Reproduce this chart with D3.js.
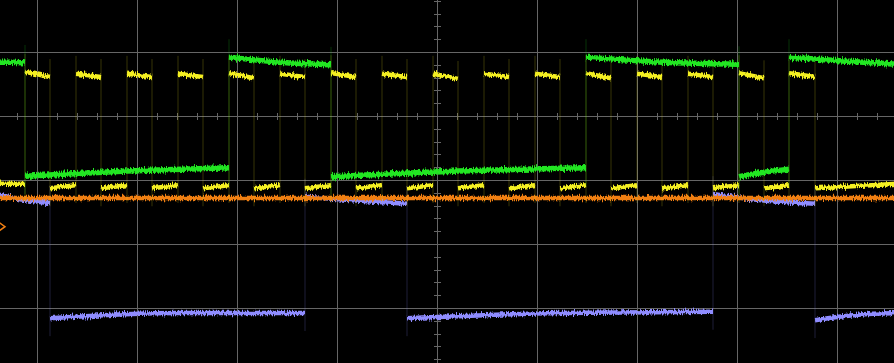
<!DOCTYPE html>
<html>
<head>
<meta charset="utf-8">
<script src="https://cdn.jsdelivr.net/npm/d3@7"></script>
<style>
  html, body { margin: 0; padding: 0; background: #000; overflow: hidden; }
  svg { display: block; }
</style>
</head>
<body>
<script>
// scope screen: time in divisions from centre, level in divisions from centre
var width = 894, height = 363;

// green trace (segments between edges)
var greenStart = [-4.40, -4.12, -2.08, -1.06, 1.49, 3.02, 3.52];
var greenEnd   = [-4.12, -2.08, -1.06, 1.49, 3.02, 3.52, 4.60];
var greenV0    = [0.84, -0.94, 0.92, -0.95, 0.92, -0.95, 0.92];
var greenVm    = [0.84, -0.86, 0.84, -0.86, 0.84, -0.88, 0.86];
var greenV1    = [0.83, -0.81, 0.80, -0.81, 0.81, -0.83, 0.81];

// yellow trace
var yellowEdges = [-4.12, -3.87, -3.61, -3.36, -3.10, -2.85, -2.59, -2.34, -2.08, -1.83, -1.57,
  -1.32, -1.06, -0.81, -0.55, -0.30, -0.04, 0.21, 0.47, 0.72, 0.98, 1.23, 1.49, 1.74, 2.00,
  2.25, 2.51, 2.76, 3.02, 3.27, 3.52, 3.78];
var yellowV0 = [-1.06, 0.69, -1.13, 0.66, -1.13, 0.66, -1.13, 0.66, -1.13, 0.67, -1.13, 0.66,
  -1.13, 0.67, -1.13, 0.66, -1.13, 0.66, -1.13, 0.66, -1.13, 0.66, -1.13, 0.67, -1.13, 0.66,
  -1.13, 0.66, -1.13, 0.67, -1.13, 0.67, -1.13];
var yellowV1 = [-1.06, 0.61, -1.08, 0.61, -1.08, 0.61, -1.08, 0.61, -1.08, 0.59, -1.08, 0.61,
  -1.08, 0.61, -1.08, 0.61, -1.08, 0.58, -1.08, 0.61, -1.08, 0.61, -1.08, 0.59, -1.08, 0.61,
  -1.08, 0.61, -1.08, 0.59, -1.08, 0.61, -1.06];

// purple trace
var purpleStart = [-4.40, -3.87, -1.32, -0.30, 2.76, 3.78];
var purpleEnd   = [-3.87, -1.32, -0.30, 2.76, 3.78, 4.60];
var purpleV0    = [-1.22, -3.16, -1.26, -3.16, -1.22, -3.19];
var purpleVm    = [-1.31, -3.08, -1.32, -3.08, -1.32, -3.11];
var purpleV1    = [-1.36, -3.08, -1.37, -3.06, -1.37, -3.08];

// orange trace
var orangeStart = [-4.40];
var orangeEnd   = [4.60];
var orangeV     = [-1.28];
var orangeRef   = -1.73;

var svg = d3.select("body").append("svg").attr("width", width).attr("height", height);
svg.append("rect").attr("width", width).attr("height", height).attr("fill", "#000");

var x = d3.scaleLinear().domain([-5, 5]).range([-63, 937]);
var y = d3.scaleLinear().domain([-4, 4]).range([372, -140]);

// noise filter for the traces
var defs = svg.append("defs");
var f = defs.append("filter").attr("id", "noise")
  .attr("filterUnits", "userSpaceOnUse")
  .attr("x", 0).attr("y", 0).attr("width", width).attr("height", height)
  .attr("color-interpolation-filters", "sRGB");
f.append("feTurbulence").attr("type", "fractalNoise").attr("baseFrequency", "0.9 0.12")
  .attr("numOctaves", 2).attr("seed", 3).attr("result", "turb");
f.append("feColorMatrix").attr("in", "turb").attr("type", "matrix")
  .attr("values", "1 0 0 0 0  0 0 0 0 0.5  0 0 0 0 0  0 0 0 0 1").attr("result", "map");
f.append("feDisplacementMap").attr("in", "SourceGraphic").attr("in2", "map")
  .attr("scale", 6).attr("xChannelSelector", "G").attr("yChannelSelector", "R");

// grid
var grid = svg.append("g").attr("stroke", "#666").attr("stroke-width", 1).attr("shape-rendering", "crispEdges");
grid.selectAll("line.v").data(d3.range(-5, 6)).enter().append("line")
  .attr("x1", d => Math.round(x(d)) + 0.5).attr("x2", d => Math.round(x(d)) + 0.5)
  .attr("y1", 0).attr("y2", height);
grid.selectAll("line.h").data(d3.range(-4, 5)).enter().append("line")
  .attr("y1", d => Math.round(y(d)) + 0.5).attr("y2", d => Math.round(y(d)) + 0.5)
  .attr("x1", 0).attr("x2", width);
// centre axis ticks
grid.selectAll("line.tx").data(d3.range(-25, 26).map(d => d / 5)).enter().append("line")
  .attr("x1", d => Math.round(x(d)) + 0.5).attr("x2", d => Math.round(x(d)) + 0.5)
  .attr("y1", Math.round(y(0)) - 3).attr("y2", Math.round(y(0)) + 4);
grid.selectAll("line.ty").data(d3.range(-20, 21).map(d => d / 5)).enter().append("line")
  .attr("y1", d => Math.round(y(d)) + 0.5).attr("y2", d => Math.round(y(d)) + 0.5)
  .attr("x1", Math.round(x(0)) - 3).attr("x2", Math.round(x(0)) + 4);

function segs(st, en, v0, vm, v1) {
  return st.map((s, i) => ({ t0: s, t1: en[i], v0: v0[i], vm: vm[i], v1: v1[i] }));
}

var line = d3.line().x(d => x(d[0])).y(d => y(d[1])).curve(d3.curveMonotoneX);

function drawTrace(data, color, sw) {
  var g = svg.append("g");
  // edges
  var edges = [];
  for (var i = 0; i < data.length - 1; i++) {
    var a = data[i].v1, b = data[i + 1].v0;
    edges.push({ t: data[i].t1, lo: Math.min(a, b) - 0.28, hi: Math.max(a, b) + 0.28 });
  }
  g.selectAll("line").data(edges).enter().append("line")
    .attr("x1", d => x(d.t)).attr("x2", d => x(d.t))
    .attr("y1", d => y(d.hi)).attr("y2", d => y(d.lo))
    .attr("stroke", color).attr("stroke-opacity", 0.22).attr("stroke-width", 1);
  g.append("g").attr("filter", "url(#noise)")
    .selectAll("path").data(data).enter().append("path")
    .attr("d", d => line([[d.t0, d.v0], [(d.t0 + d.t1) / 2, d.vm], [d.t1, d.v1]]))
    .attr("fill", "none").attr("stroke", color).attr("stroke-width", sw);
}

var yStart = [-4.40].concat(yellowEdges), yEnd = yellowEdges.concat([4.60]);
var yMid = yellowV0.map((v, i) => (v + yellowV1[i]) / 2);

drawTrace(segs(purpleStart, purpleEnd, purpleV0, purpleVm, purpleV1), "#8f8cff", 4.5);
drawTrace(segs(orangeStart, orangeEnd, orangeV, orangeV, orangeV), "#f07f12", 4.5);
drawTrace(segs(yStart, yEnd, yellowV0, yMid, yellowV1), "#f4ef22", 4.5);
drawTrace(segs(greenStart, greenEnd, greenV0, greenVm, greenV1), "#22e622", 5.5);

// ground reference marker
var my = y(orangeRef);
svg.append("path").attr("d", "M-2," + (my - 5) + " L5," + my + " L-2," + (my + 5))
  .attr("fill", "none").attr("stroke", "#f07f12").attr("stroke-width", 1.5);
</script>
</body>
</html>
